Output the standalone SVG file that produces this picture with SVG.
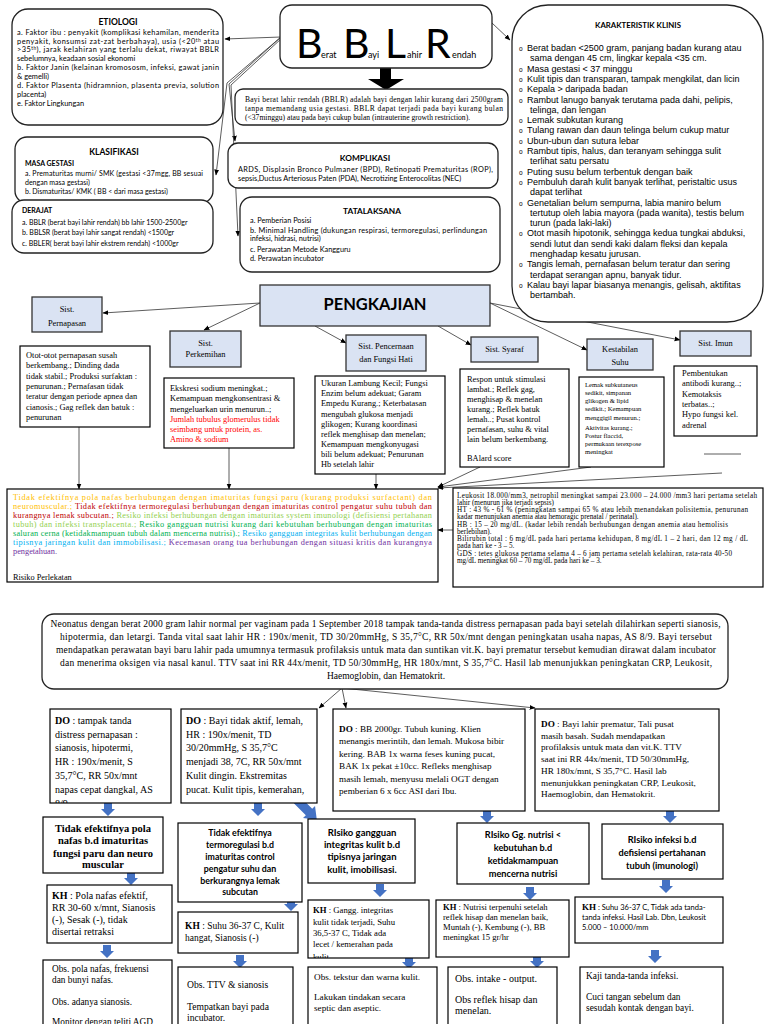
<svg xmlns="http://www.w3.org/2000/svg" width="768" height="1024" viewBox="0 0 768 1024">
<style>
.s{font-family:Lato,"Liberation Sans",sans-serif;fill:#000}
.a{font-family:"Liberation Sans",Arial,sans-serif;fill:#000}
.t{font-family:"Liberation Serif","Times New Roman",serif;fill:#000}
.b{font-weight:bold}
.bx{fill:#fff;stroke:#000;stroke-width:1.2}
.rb{fill:#fff;stroke:#222;stroke-width:1.3}
.sb{fill:#dae3f3;stroke:#333;stroke-width:1.3}
.ln{fill:none;stroke:#333;stroke-width:0.8}
.m{text-anchor:middle}
.ba{fill:#4472c4}
</style>
<defs>
<marker id="ah" viewBox="0 0 10 10" refX="9" refY="5" markerWidth="6" markerHeight="6" orient="auto" markerUnits="userSpaceOnUse"><path d="M0,1 L10,5 L0,9 Z" fill="#000"/></marker>
<path id="da" d="M-4,0 H4 V6 H7 L0,13 L-7,6 H-4 Z"/>
<path id="dl" d="M-4.5,0 H4.5 V17 H8.5 L0,28 L-8.5,17 H-4.5 Z"/>
<clipPath id="c1"><rect x="50" y="709" width="121" height="94"/></clipPath>
<clipPath id="c3"><rect x="308" y="900" width="121" height="58"/></clipPath>
</defs>
<rect width="768" height="1024" fill="#fff"/>

<g id="connectors">
<line class="ln" x1="281" y1="37" x2="225" y2="39" marker-end="url(#ah)"/>
<polyline class="ln" points="281,37 227,83 216,175" marker-end="url(#ah)"/>
<polyline class="ln" points="281,37 229,84 235,141" marker-end="url(#ah)"/>
<polyline class="ln" points="282,38 231,85 238,236" marker-end="url(#ah)"/>
<line class="ln" x1="492" y1="23" x2="510" y2="40" marker-end="url(#ah)"/>
<path d="M380,68 H391 V79 H404 L386,90 L368,79 H380 Z" fill="#000"/>
<line class="ln" x1="260" y1="303" x2="103" y2="313" marker-end="url(#ah)"/>
<line class="ln" x1="260" y1="303" x2="204" y2="330" marker-end="url(#ah)"/>
<line class="ln" x1="315" y1="326" x2="346" y2="343" marker-end="url(#ah)"/>
<line class="ln" x1="438" y1="326" x2="471" y2="345" marker-end="url(#ah)"/>
<line class="ln" x1="490" y1="303" x2="587" y2="350" marker-end="url(#ah)"/>
<line class="ln" x1="490" y1="303" x2="680" y2="340" marker-end="url(#ah)"/>
<line class="ln" x1="79" y1="427" x2="79" y2="489" marker-end="url(#ah)"/>
<line class="ln" x1="229" y1="448" x2="229" y2="489" marker-end="url(#ah)"/>
<line class="ln" x1="376" y1="474" x2="376" y2="489" marker-end="url(#ah)"/>
<line class="ln" x1="480" y1="467" x2="438" y2="487" marker-end="url(#ah)"/>
<line class="ln" x1="591" y1="467" x2="438" y2="487" marker-end="url(#ah)"/>
<line class="ln" x1="722" y1="473" x2="438" y2="488" marker-end="url(#ah)"/>
<line class="ln" x1="704" y1="454" x2="741" y2="454"/>
<line class="ln" x1="453" y1="530" x2="438" y2="530" marker-end="url(#ah)"/>
<line class="ln" x1="342" y1="688" x2="319" y2="708" marker-end="url(#ah)"/>
<line class="ln" x1="342" y1="688" x2="346" y2="708" marker-end="url(#ah)"/>
<line class="ln" x1="342" y1="688" x2="535" y2="708" marker-end="url(#ah)"/>
<use href="#da" class="ba" transform="translate(108,803)"/>
<use href="#da" class="ba" transform="translate(131,872)"/>
<use href="#da" class="ba" transform="translate(107,945)"/>
<use href="#da" class="ba" transform="translate(258,803)"/>
<use href="#da" class="ba" transform="translate(291,898)"/>
<use href="#da" class="ba" transform="translate(240,955)"/>
<use href="#dl" class="ba" transform="translate(297,800) rotate(-45)"/>
<use href="#da" class="ba" transform="translate(380,884)"/>
<use href="#da" class="ba" transform="translate(409,956)"/>
<use href="#da" class="ba" transform="translate(487,810)"/>
<use href="#da" class="ba" transform="translate(530,887)"/>
<use href="#da" class="ba" transform="translate(537,955)"/>
<use href="#da" class="ba" transform="translate(670,810)"/>
<use href="#da" class="ba" transform="translate(666,880)"/>
<use href="#da" class="ba" transform="translate(655,950)"/>
</g>

<g id="etiologi">
<rect class="rb" x="12" y="9" width="211" height="116" rx="16"/>
<text class="s b m" x="118" y="24.5" font-size="8.5">ETIOLOGI</text>
<g class="s" font-size="7.4">
<text x="17" y="35" textLength="202" lengthAdjust="spacing">a. Faktor ibu : penyakit (komplikasi kehamilan, menderita</text>
<text x="17" y="43.5" textLength="202" lengthAdjust="spacing">penyakit, konsumsi zat-zat berbahaya), usia (&lt;20<tspan font-size="4.8" dy="-2">th</tspan><tspan dy="2"> atau</tspan></text>
<text x="17" y="52" textLength="202" lengthAdjust="spacing">&gt;35<tspan font-size="4.8" dy="-2">th</tspan><tspan dy="2">), jarak kelahiran yang terlalu dekat, riwayat BBLR</tspan></text>
<text x="17" y="60.5">sebelumnya, keadaan sosial ekonomi</text>
<text x="17" y="70" textLength="202" lengthAdjust="spacing">b. Faktor Janin (kelainan kromososm, infeksi, gawat janin</text>
<text x="17" y="78.5">&amp; gemelli)</text>
<text x="17" y="88" textLength="202" lengthAdjust="spacing">d. Faktor Plasenta (hidramnion, plasenta previa, solution</text>
<text x="17" y="96.5">placenta)</text>
<text x="17" y="106">e. Faktor Lingkungan</text>
</g>
</g>

<g id="bblr">
<rect class="rb" x="280" y="5" width="212" height="63" rx="12"/>
<text class="s" y="58" font-size="41"><tspan x="296">B</tspan><tspan x="321" font-size="9">erat</tspan><tspan x="343">B</tspan><tspan x="368" font-size="9">ayi</tspan><tspan x="385">L</tspan><tspan x="407" font-size="9">ahir</tspan><tspan x="425">R</tspan><tspan x="452" font-size="9">endah</tspan></text>
</g>

<g id="definisi">
<rect class="rb" x="235" y="89" width="273" height="36" rx="8"/>
<g class="t" font-size="7.6">
<text x="245" y="101.5" textLength="258" lengthAdjust="spacing">Bayi berat lahir rendah (BBLR) adalah bayi dengan lahir kurang dari 2500gram</text>
<text x="245" y="111" textLength="258" lengthAdjust="spacing">tanpa memandang usia gestasi. BBLR dapat terjadi pada bayi kurang bulan</text>
<text x="245" y="120">(&lt;37minggu) atau pada bayi cukup bulan (intrauterine growth restriction).</text>
</g>
</g>

<g id="karakteristik">
<rect class="rb" x="512" y="5" width="251" height="317" rx="36"/>
<text class="s b m" x="638" y="27.5" font-size="7.8">KARAKTERISTIK KLINIS</text>
<g class="a" font-size="9">
<g font-size="6.5">
<text x="519" y="51">o</text><text x="519" y="71.6">o</text><text x="519" y="81.9">o</text><text x="519" y="92.2">o</text><text x="519" y="102.5">o</text><text x="519" y="123.1">o</text><text x="519" y="133.4">o</text><text x="519" y="143.7">o</text><text x="519" y="154">o</text><text x="519" y="174.6">o</text><text x="519" y="184.9">o</text><text x="519" y="205.5">o</text><text x="519" y="236.4">o</text><text x="519" y="267.3">o</text><text x="519" y="287.9">o</text>
</g>
<text x="527" y="51">Berat badan &lt;2500 gram, panjang badan kurang atau</text>
<text x="530" y="61.3">sama dengan 45 cm, lingkar kepala &lt;35 cm.</text>
<text x="527" y="71.6">Masa gestasi &lt; 37 minggu</text>
<text x="527" y="81.9">Kulit tipis dan transparan, tampak mengkilat, dan licin</text>
<text x="527" y="92.2">Kepala &gt; daripada badan</text>
<text x="527" y="102.5">Rambut lanugo banyak terutama pada dahi, pelipis,</text>
<text x="530" y="112.8">telinga, dan lengan</text>
<text x="527" y="123.1">Lemak subkutan kurang</text>
<text x="527" y="133.4">Tulang rawan dan daun telinga belum cukup matur</text>
<text x="527" y="143.7">Ubun-ubun dan sutura lebar</text>
<text x="527" y="154">Rambut tipis, halus, dan teranyam sehingga sulit</text>
<text x="530" y="164.3">terlihat satu persatu</text>
<text x="527" y="174.6">Puting susu belum terbentuk dengan baik</text>
<text x="527" y="184.9">Pembuluh darah kulit banyak terlihat, peristaltic usus</text>
<text x="530" y="195.2">dapat terlihat</text>
<text x="527" y="205.5">Genetalian belum sempurna, labia maniro belum</text>
<text x="530" y="215.8">tertutup oleh labia mayora (pada wanita), testis belum</text>
<text x="530" y="226.1">turun (pada laki-laki)</text>
<text x="527" y="236.4">Otot masih hipotonik, sehingga kedua tungkai abduksi,</text>
<text x="530" y="246.7">sendi lutut dan sendi kaki dalam fleksi dan kepala</text>
<text x="530" y="257">menghadap kesatu jurusan.</text>
<text x="527" y="267.3">Tangis lemah, pernafasan belum teratur dan sering</text>
<text x="530" y="277.6">terdapat serangan apnu, banyak tidur.</text>
<text x="527" y="287.9">Kalau bayi lapar biasanya menangis, gelisah, aktifitas</text>
<text x="530" y="298.2">bertambah.</text>
</g>
</g>

<g id="klasifikasi">
<rect class="rb" x="15" y="137" width="198" height="66" rx="12"/>
<text class="s b m" x="114" y="155" font-size="8.5">KLASIFIKASI</text>
<g class="s" font-size="7">
<text class="b" x="25" y="165.5">MASA GESTASI</text>
<text x="25" y="175.5" textLength="178" lengthAdjust="spacing">a. Prematuritas murni/ SMK (gestasi &lt;37mgg, BB sesuai</text>
<text x="25" y="184.5">dengan masa gestasi)</text>
<text x="25" y="193.5">b. Dismaturitas/ KMK ( BB &lt; dari masa gestasi)</text>
</g>
</g>

<g id="derajat">
<rect class="rb" x="12" y="200" width="201" height="53" rx="12"/>
<g class="s" font-size="7">
<text class="b" x="22" y="212.5">DERAJAT</text>
<text x="22" y="224.5">a. BBLR (berat bayi lahir rendah) bb lahir 1500-2500gr</text>
<text x="22" y="234.5">b. BBLSR (berat bayi lahir sangat rendah) &lt;1500gr</text>
<text x="22" y="245.5">c. BBLER( berat bayi lahir ekstrem rendah) &lt;1000gr</text>
</g>
</g>

<g id="komplikasi">
<rect class="rb" x="228" y="143" width="270" height="45" rx="10"/>
<text class="s b m" x="365" y="160.5" font-size="8.3">KOMPLIKASI</text>
<g class="s" font-size="7.3">
<text x="238" y="171.5" textLength="255" lengthAdjust="spacing">ARDS, Displasin Bronco Pulmaner (BPD), Retinopati Prematuritas (ROP),</text>
<text x="238" y="180.5">sepsis,Ductus Arteriosus Paten (PDA), Necrotizing Enterocolitas (NEC)</text>
</g>
</g>

<g id="tatalaksana">
<rect class="rb" x="240" y="197" width="260" height="75" rx="12"/>
<text class="s b m" x="372" y="213.5" font-size="8.3">TATALAKSANA</text>
<g class="s" font-size="7.3">
<text x="250" y="222.5">a. Pemberian Posisi</text>
<text x="250" y="232.5" textLength="237" lengthAdjust="spacing">b. Minimal Handling (dukungan respirasi, termoregulasi, perlindungan</text>
<text x="250" y="240.5">infeksi, hidrasi, nutrisi)</text>
<text x="250" y="251.5">c. Perawatan Metode Kangguru</text>
<text x="250" y="260.5">d. Perawatan incubator</text>
</g>
</g>

<g id="pengkajian">
<rect class="sb" x="260" y="285" width="230" height="41"/>
<text class="s b m" x="375" y="310" font-size="17" textLength="103" lengthAdjust="spacingAndGlyphs">PENGKAJIAN</text>
</g>

<g id="sist-pernapasan">
<rect class="sb" x="32" y="297" width="70" height="35"/>
<text class="t m" x="67" y="312" font-size="8.4">Sist.</text>
<text class="t m" x="67" y="326" font-size="8.4">Pernapasan</text>
</g>
<g id="sist-perkemihan">
<rect class="sb" x="170" y="331" width="71" height="36"/>
<text class="t m" x="205.5" y="346" font-size="8.4">Sist.</text>
<text class="t m" x="205.5" y="357" font-size="8.4">Perkemihan</text>
</g>
<g id="sist-pencernaan">
<rect class="sb" x="346" y="335" width="80" height="36"/>
<text class="t m" x="386" y="349" font-size="8.4">Sist. Pencernaan</text>
<text class="t m" x="386" y="362" font-size="8.4">dan Fungsi Hati</text>
</g>
<g id="sist-syaraf">
<rect class="sb" x="471" y="337" width="67" height="25"/>
<text class="t m" x="504.5" y="352" font-size="8.4">Sist. Syaraf</text>
</g>
<g id="kestabilan-suhu">
<rect class="sb" x="587" y="339" width="66" height="31"/>
<text class="t m" x="620" y="352" font-size="8.4">Kestabilan</text>
<text class="t m" x="620" y="365" font-size="8.4">Suhu</text>
</g>
<g id="sist-imun">
<rect class="sb" x="680" y="331" width="71" height="25"/>
<text class="t m" x="715.5" y="346" font-size="8.4">Sist. Imun</text>
</g>

<g id="isi-pernapasan">
<rect class="bx" x="20" y="346" width="130" height="81"/>
<g class="t" font-size="8.4">
<text x="26" y="358">Otot-otot pernapasan susah</text>
<text x="26" y="368.3">berkembang.; Dinding dada</text>
<text x="26" y="378.6">tidak stabil.; Produksi surfaktan :</text>
<text x="26" y="388.9">penurunan.; Pernafasan tidak</text>
<text x="26" y="399.2">teratur dengan periode apnea dan</text>
<text x="26" y="409.5">cianosis.; Gag reflek dan batuk :</text>
<text x="26" y="419.8">penurunan</text>
</g>
</g>
<g id="isi-perkemihan">
<rect class="bx" x="164" y="378" width="130" height="70"/>
<g class="t" font-size="8.4">
<text x="170" y="391">Ekskresi sodium meningkat.;</text>
<text x="170" y="401.3">Kemampuan mengkonsentrasi &amp;</text>
<text x="170" y="411.6">mengeluarkan urin menurun..;</text>
<text x="170" y="421.9" fill="#f00">Jumlah tubulus glomerulus tidak</text>
<text x="170" y="432.2" fill="#f00">seimbang untuk protein, as.</text>
<text x="170" y="442" fill="#f00">Amino &amp; sodium</text>
</g>
</g>
<g id="isi-pencernaan">
<rect class="bx" x="315" y="376" width="130" height="98"/>
<g class="t" font-size="8.4">
<text x="321" y="386">Ukuran Lambung Kecil; Fungsi</text>
<text x="321" y="396.2">Enzim belum adekuat; Garam</text>
<text x="321" y="406.4">Empedu Kurang.; Keterbatasan</text>
<text x="321" y="416.6">mengubah glukosa menjadi</text>
<text x="321" y="426.8">glikogen; Kurang koordinasi</text>
<text x="321" y="437">reflek menghisap dan menelan;</text>
<text x="321" y="447.2">Kemampuan mengkonyugasi</text>
<text x="321" y="457.4">bili belum adekuat; Penurunan</text>
<text x="321" y="467.2">Hb setelah lahir</text>
</g>
</g>
<g id="isi-syaraf">
<rect class="bx" x="460" y="369" width="109" height="98"/>
<g class="t" font-size="8.4">
<text x="467" y="382">Respon untuk stimulasi</text>
<text x="467" y="392">lambat.; Reflek gag,</text>
<text x="467" y="402">menghisap &amp; menelan</text>
<text x="467" y="412">kurang.; Reflek batuk</text>
<text x="467" y="422">lemah..; Pusat kontrol</text>
<text x="467" y="432">pernafasan, suhu &amp; vital</text>
<text x="467" y="442">lain belum berkembang.</text>
<text x="467" y="461">BAlard score</text>
</g>
</g>
<g id="isi-kestabilan">
<rect class="bx" x="579" y="377" width="85" height="90"/>
<g class="t" font-size="6.6">
<text x="585" y="386.5">Lemak subkutaneus</text>
<text x="585" y="394.7">sedikit, simpanan</text>
<text x="585" y="403">glikogen &amp; lipid</text>
<text x="585" y="411.3">sedikit.; Kemampuan</text>
<text x="585" y="419.6">menggigil menurun.;</text>
<text x="585" y="429.5">Aktivitas kurang.;</text>
<text x="585" y="437.7">Postur flaccid,</text>
<text x="585" y="445.9">permukaan terexpose</text>
<text x="585" y="454.2">meningkat</text>
</g>
</g>
<g id="isi-imun">
<rect class="bx" x="674" y="366" width="83" height="70"/>
<g class="t" font-size="8.4">
<text x="682" y="376">Pembentukan</text>
<text x="682" y="386.3">antibodi kurang..;</text>
<text x="682" y="396.6">Kemotaksis</text>
<text x="682" y="406.9">terbatas..;</text>
<text x="682" y="417.2">Hypo fungsi kel.</text>
<text x="682" y="427.5">adrenal</text>
</g>
</g>

<g id="diagnosa">
<rect class="bx" x="7" y="489" width="431" height="93"/>
<g class="t" font-size="8.3">
<text x="13" y="499.7" textLength="419" lengthAdjust="spacing" fill="#ffc000">Tidak efektifnya pola nafas berhubungan dengan imaturitas fungsi paru (kurang produksi surfactant) dan</text>
<text x="13" y="508.7" textLength="419" lengthAdjust="spacing"><tspan fill="#ffc000">neuromuscular.; </tspan><tspan fill="#c00000">Tidak efektifnya termoregulasi berhubungan dengan imaturitas control pengatur suhu tubuh dan</tspan></text>
<text x="13" y="517.7" textLength="419" lengthAdjust="spacing"><tspan fill="#c00000">kurangnya lemak subcutan.; </tspan><tspan fill="#92d050">Resiko infeksi berhubungan dengan imaturitas system imunologi (defisiensi pertahanan</tspan></text>
<text x="13" y="526.7" textLength="419" lengthAdjust="spacing"><tspan fill="#92d050">tubuh) dan infeksi transplacenta.; </tspan><tspan fill="#00b050">Resiko gangguan nutrisi kurang dari kebutuhan berhubungan dengan imaturitas</tspan></text>
<text x="13" y="535.7" textLength="419" lengthAdjust="spacing"><tspan fill="#00b050">saluran cerna (ketidakmampuan tubuh dalam mencerna nutrisi).; </tspan><tspan fill="#00b0f0">Resiko gangguan integritas kulit berhubungan dengan</tspan></text>
<text x="13" y="544.7" textLength="419" lengthAdjust="spacing"><tspan fill="#00b0f0">tipisnya jaringan kulit dan immobilisasi.; </tspan><tspan fill="#7030a0">Kecemasan orang tua berhubungan dengan situasi kritis dan kurangnya</tspan></text>
<text x="13" y="553.7" fill="#7030a0">pengetahuan.</text>
<text x="13" y="579.5">Risiko Perlekatan</text>
</g>
</g>

<g id="lab">
<rect class="bx" x="453" y="488" width="310" height="99"/>
<g class="t" font-size="7.2">
<text x="457" y="497.5" textLength="300" lengthAdjust="spacing">Leukosit 18.000/mm3, netrophil meningkat sampai 23.000 – 24.000 /mm3 hari pertama setelah</text>
<text x="457" y="504.7">lahir (menurun jika terjadi sepsis)</text>
<text x="457" y="511.9" textLength="291" lengthAdjust="spacing">HT : 43 % - 61 % (peningkatan sampai 65 % atau lebih menandakan polisitemia, penurunan</text>
<text x="457" y="519.4">kadar menunjukan anemia atau hemoragic prenatal / perinatal).</text>
<text x="457" y="526.6" textLength="271" lengthAdjust="spacing">HB : 15 – 20 mg/dL. (kadar lebih rendah berhubungan dengan anemia atau hemolisis</text>
<text x="457" y="533.6">berlebihan).</text>
<text x="457" y="540.8" textLength="291" lengthAdjust="spacing">Bilirubin total : 6 mg/dL pada hari pertama kehidupan, 8 mg/dL 1 – 2 hari, dan 12 mg / dL</text>
<text x="457" y="547.8">pada hari ke - 3 – 5.</text>
<text x="457" y="555.6" textLength="275" lengthAdjust="spacing">GDS : tetes glukosa pertama selama 4 – 6 jam pertama setelah kelahiran, rata-rata 40-50</text>
<text x="457" y="563">mg/dL meningkat 60 – 70 mg/dL pada hari ke – 3.</text>
</g>
</g>

<g id="kasus">
<rect class="rb" x="42" y="614" width="686" height="75" rx="12"/>
<g class="t m" font-size="9.5">
<text x="385.5" y="627" textLength="670" lengthAdjust="spacing">Neonatus dengan berat 2000 gram lahir normal per vaginam pada 1 September 2018 tampak tanda-tanda distress pernapasan pada bayi setelah dilahirkan seperti sianosis,</text>
<text x="386" y="640" textLength="652" lengthAdjust="spacing">hipotermia, dan letargi. Tanda vital saat lahir HR : 190x/menit, TD 30/20mmHg, S 35,7°C, RR 50x/mnt dengan peningkatan usaha napas, AS 8/9. Bayi tersebut</text>
<text x="386" y="653" textLength="660" lengthAdjust="spacing">mendapatkan perawatan bayi baru lahir pada umumnya termasuk profilaksis untuk mata dan suntikan vit.K. bayi prematur tersebut kemudian dirawat dalam incubator</text>
<text x="386" y="666" textLength="652" lengthAdjust="spacing">dan menerima oksigen via nasal kanul. TTV saat ini RR 44x/menit, TD 50/30mmHg, HR 180x/mnt, S 35,7°C. Hasil lab menunjukkan peningkatan CRP, Leukosit,</text>
<text x="386" y="679">Haemoglobin, dan Hematokrit.</text>
</g>
</g>

<g id="do-1">
<rect class="bx" x="50" y="709" width="121" height="94"/>
<g class="t" font-size="10">
<text x="55" y="724"><tspan class="b">DO</tspan> : tampak tanda</text>
<text x="55" y="737.7">distress pernapasan :</text>
<text x="55" y="751.4">sianosis, hipotermi,</text>
<text x="55" y="765.1">HR : 190x/menit, S</text>
<text x="55" y="778.8">35,7°C, RR 50x/mnt</text>
<text x="55" y="792.5">napas cepat dangkal, AS</text>
<text x="55" y="807" clip-path="url(#c1)">8/9</text>
</g>
</g>
<g id="do-2">
<rect class="bx" x="181" y="709" width="136" height="94"/>
<g class="t" font-size="10">
<text x="186" y="724"><tspan class="b">DO</tspan> : Bayi tidak aktif,  lemah,</text>
<text x="186" y="737.7">HR : 190x/menit, TD</text>
<text x="186" y="751.4">30/20mmHg, S 35,7°C</text>
<text x="186" y="765.1">menjadi 38, 7C, RR 50x/mnt</text>
<text x="186" y="778.8">Kulit dingin. Ekstremitas</text>
<text x="186" y="792.5">pucat. Kulit tipis, kemerahan,</text>
</g>
</g>
<g id="do-3">
<rect class="bx" x="333" y="709" width="192" height="102"/>
<g class="t" font-size="9.2">
<text x="339" y="731.5"><tspan class="b">DO</tspan> : BB  2000gr. Tubuh kuning. Klien</text>
<text x="339" y="744">menangis merintih, dan lemah. Mukosa bibir</text>
<text x="339" y="756.5">kering. BAB 1x warna feses kuning pucat,</text>
<text x="339" y="769">BAK 1x pekat ±10cc. Refleks menghisap</text>
<text x="339" y="781.5">masih lemah, menyusu melali OGT dengan</text>
<text x="339" y="794">pemberian 6 x 6cc ASI dari Ibu.</text>
</g>
</g>
<g id="do-4">
<rect class="bx" x="535" y="709" width="184" height="102"/>
<g class="t" font-size="9.2">
<text x="541" y="727"><tspan class="b">DO</tspan> : Bayi lahir  prematur,  Tali pusat</text>
<text x="541" y="738.7">masih basah. Sudah  mendapatkan</text>
<text x="541" y="750.4">profilaksis untuk mata dan  vit.K.  TTV</text>
<text x="541" y="762.1">saat ini RR 44x/menit, TD 50/30mmHg,</text>
<text x="541" y="773.8">HR 180x/mnt, S 35,7°C. Hasil lab</text>
<text x="541" y="785.5">menunjukkan peningkatan CRP, Leukosit,</text>
<text x="541" y="797.2">Haemoglobin, dan Hematokrit.</text>
</g>
</g>

<g id="dx-1">
<rect class="bx" x="43" y="817" width="120" height="56"/>
<g class="t b m" font-size="10.5">
<text x="103" y="831.5">Tidak efektifnya pola</text>
<text x="103" y="844">nafas b.d imaturitas</text>
<text x="103" y="856.5">fungsi paru dan neuro</text>
<text x="103" y="868">muscular</text>
</g>
</g>
<g id="dx-2">
<rect class="bx" x="178" y="823" width="124" height="79"/>
<g class="s b m" font-size="8.8">
<text x="240" y="836">Tidak efektifnya</text>
<text x="240" y="848">termoregulasi b.d</text>
<text x="240" y="859.7">imaturitas control</text>
<text x="240" y="871.6">pengatur suhu dan</text>
<text x="240" y="883.5">berkurangnya lemak</text>
<text x="240" y="895.3">subcutan</text>
</g>
</g>
<g id="dx-3">
<rect class="bx" x="308" y="819" width="107" height="64"/>
<g class="s b m" font-size="9.5">
<text x="362" y="835.5">RIsiko gangguan</text>
<text x="362" y="847.8">integritas kulit b.d</text>
<text x="362" y="860.1">tipisnya jaringan</text>
<text x="362" y="872.5">kulit, imobilisasi.</text>
</g>
</g>
<g id="dx-4">
<rect class="bx" x="457" y="823" width="132" height="61"/>
<g class="s b m" font-size="9.2">
<text x="523" y="837.5">RIsiko Gg. nutrisi &lt;</text>
<text x="523" y="850.5">kebutuhan b.d</text>
<text x="523" y="863.5">ketidakmampuan</text>
<text x="523" y="876.5">mencerna nutrisi</text>
</g>
</g>
<g id="dx-5">
<rect class="bx" x="602" y="824" width="121" height="55"/>
<g class="s b m" font-size="9.2">
<text x="662" y="842.5">RIsiko infeksi b.d</text>
<text x="662" y="855.5">defisiensi pertahanan</text>
<text x="662" y="868.5">tubuh (imunologi)</text>
</g>
</g>

<g id="kh-1">
<rect class="bx" x="47" y="885" width="125" height="58"/>
<g class="t" font-size="10">
<text x="52" y="898.5"><tspan class="b">KH</tspan> : Pola nafas efektif,</text>
<text x="52" y="910.5">RR 30-60 x/mnt, Sianosis</text>
<text x="52" y="922.5">(-), Sesak (-), tidak</text>
<text x="52" y="934.5">disertai retraksi</text>
</g>
</g>
<g id="kh-2">
<rect class="bx" x="178" y="912" width="120" height="41"/>
<g class="t" font-size="9.5">
<text x="185" y="929"><tspan class="b">KH</tspan> : Suhu 36-37 C, Kulit</text>
<text x="185" y="941">hangat, Sianosis (-)</text>
</g>
</g>
<g id="kh-3">
<rect class="bx" x="308" y="900" width="121" height="58"/>
<g class="t" font-size="8.7">
<text x="313" y="913"><tspan class="b">KH</tspan> : Gangg.  integritas</text>
<text x="313" y="924.8">kulit tidak terjadi, Suhu</text>
<text x="313" y="935.8">36,5-37 C, Tidak ada</text>
<text x="313" y="946.5">lecet / kemerahan pada</text>
<text x="313" y="959.5" clip-path="url(#c3)">kulit</text>
</g>
</g>
<g id="kh-4">
<rect class="bx" x="436" y="900" width="133" height="57"/>
<g class="t" font-size="8.6">
<text x="443" y="910"><tspan class="b">KH</tspan> : Nutrisi terpenuhi setelah</text>
<text x="443" y="920">reflek hisap  dan menelan baik,</text>
<text x="443" y="930">Muntah (-), Kembung (-), BB</text>
<text x="443" y="940">meningkat 15 gr/hr</text>
</g>
</g>
<g id="kh-5">
<rect class="bx" x="575" y="897" width="148" height="46"/>
<g class="s" font-size="7.5">
<text x="582" y="909.5"><tspan class="t b" font-size="9">KH</tspan> : Suhu 36-37 C, Tidak ada tanda-</text>
<text x="582" y="919.5">tanda infeksi. Hasil Lab. Dbn, Leukosit</text>
<text x="582" y="929.5">5.000 – 10.000/mm</text>
</g>
</g>

<g id="intervensi-1">
<rect class="bx" x="43" y="960" width="129" height="70"/>
<g class="t" font-size="9.3">
<text x="52" y="972">Obs. pola nafas, frekuensi</text>
<text x="52" y="983">dan bunyi nafas.</text>
<text x="52" y="1005">Obs. adanya sianosis.</text>
<text x="52" y="1025">Monitor dengan teliti AGD</text>
</g>
</g>
<g id="intervensi-2">
<rect class="bx" x="178" y="967" width="115" height="63"/>
<g class="t" font-size="9.6">
<text x="187" y="988">Obs. TTV &amp; sianosis</text>
<text x="187" y="1010">Tempatkan bayi pada</text>
<text x="187" y="1020.5">incubator.</text>
</g>
</g>
<g id="intervensi-3">
<rect class="bx" x="308" y="967" width="129" height="63"/>
<g class="t" font-size="9.2">
<text x="314" y="980">Obs. tekstur dan warna kulit.</text>
<text x="314" y="1000">Lakukan tindakan secara</text>
<text x="314" y="1011">septic dan aseptic.</text>
</g>
</g>
<g id="intervensi-4">
<rect class="bx" x="448" y="967" width="109" height="63"/>
<g class="t" font-size="10">
<text x="455" y="981.5">Obs. intake - output.</text>
<text x="455" y="1002.5">Obs reflek hisap dan</text>
<text x="455" y="1013.5">menelan.</text>
</g>
</g>
<g id="intervensi-5">
<rect class="bx" x="580" y="967" width="143" height="63"/>
<g class="t" font-size="9.4">
<text x="586" y="979">Kaji tanda-tanda infeksi.</text>
<text x="586" y="1000">Cuci tangan sebelum dan</text>
<text x="586" y="1011">sesudah kontak dengan bayi.</text>
</g>
</g>
</svg>
